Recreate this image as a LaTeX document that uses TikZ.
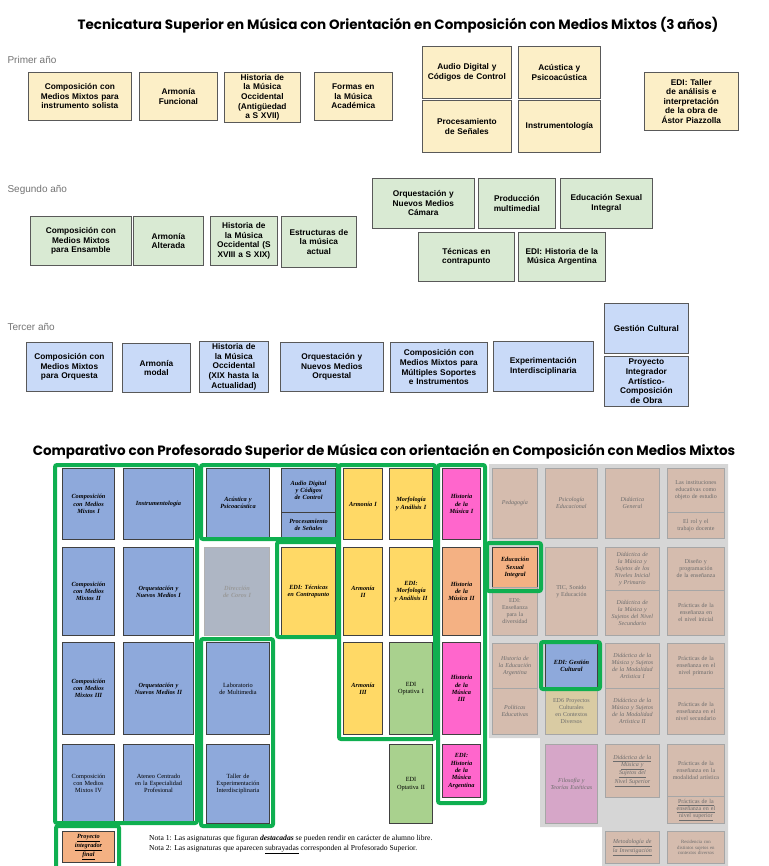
\documentclass[tikz,border=0pt]{standalone}
\usepackage{fontspec}
\setmainfont{Liberation Sans}
\newfontfamily\ttl{Poppins}
\newfontfamily\srf{Liberation Serif}
\definecolor{ylw}{HTML}{FCEFC7}
\definecolor{lgr}{HTML}{D9EAD3}
\definecolor{lbl}{HTML}{C9DAF8}
\definecolor{bblue}{HTML}{8EA9DB}
\definecolor{byel}{HTML}{FFD966}
\definecolor{bpink}{HTML}{FF66CC}
\definecolor{bora}{HTML}{F4B183}
\definecolor{bgrn}{HTML}{A9D18E}
\definecolor{bgray}{HTML}{AEB6C4}
\definecolor{tan}{HTML}{D5BCAE}
\definecolor{ltan}{HTML}{D9CBA3}
\definecolor{lpink}{HTML}{D6A6C8}
\definecolor{bg}{HTML}{D6D6D6}
\definecolor{grn}{HTML}{0FAF50}
\newcommand\bx[7]{\pgfmathsetmacro\bw{#4-#2}\pgfmathsetmacro\bh{#5-#3}\pgfmathsetmacro\tw{#4-#2-10}%
\node[#6,anchor=north west,inner sep=2pt,minimum width=\bw pt,minimum height=\bh pt,text width=\tw pt,align=center] (#1) at (#2,#3) {#7};}
\newcommand\nohy{\lefthyphenmin=99 \righthyphenmin=99 \hyphenpenalty=10000 }
\tikzset{
 top/.style={draw=gray!70!black,line width=0.7pt,font=\nohy\bfseries\fontsize{8.3}{9.6}\selectfont},
 ty/.style={top,fill=ylw}, tg/.style={top,fill=lgr}, tb/.style={top,fill=lbl},
 yr/.style={font=\fontsize{10}{12}\selectfont,text=gray!90!black,anchor=west},
 bot/.style={draw=black!75,line width=1pt,font=\nohy\srf\fontsize{6.3}{7.3}\selectfont},
 bb/.style={bot,font=\nohy\srf\bfseries\itshape\fontsize{6.3}{7.3}\selectfont},
 gr/.style={draw=gray!70,line width=0.8pt,fill=tan,text=gray!85!black,font=\nohy\srf\fontsize{6}{7}\selectfont},
 gri/.style={gr,font=\nohy\srf\itshape\fontsize{6}{7}\selectfont},
 gbox/.style={draw=grn,line width=4pt,rounded corners=2pt},
}
\begin{document}
\nohy
\begin{tikzpicture}[x=1pt,y=-1pt]
\useasboundingbox (0,0) rectangle (768,866);
\node[font=\ttl\bfseries\fontsize{13.5}{15}\selectfont] (t1) at (398,25) {Tecnicatura Superior en Música con Orientación en Composición con Medios Mixtos (3 años)};
\node[yr] (y1) at (4,60) {Primer año};
\node[yr] (y2) at (4,190) {Segundo año};
\node[yr] (y3) at (4,327) {Tercer año};
% first year
\bx{a1}{28}{72}{131}{120}{ty}{Composición con Medios Mixtos para instrumento solista}
\bx{a2}{139}{72}{217}{120}{ty}{Armonía Funcional}
\bx{a3}{224}{72}{300}{120}{ty}{Historia de la Música Occidental (Antigüedad a S XVII)}
\bx{a4}{314}{72}{392}{120}{ty}{Formas en la Música Académica}
\bx{a5}{422}{46}{511}{98}{ty}{Audio Digital y Códigos de Control}
\bx{a6}{518}{46}{600}{98}{ty}{Acústica y\\Psicoacústica}
\bx{a7}{422}{100}{511}{152}{ty}{Procesamiento de Señales}
\bx{a8}{518}{100}{600}{152}{ty}{Instrumentología}
\bx{a9}{644}{72}{738}{130}{ty}{EDI: Taller de análisis e interpretación de la obra de Ástor Piazzolla}
% second year
\bx{b1}{30}{216}{131}{265}{tg}{Composición con Medios Mixtos para Ensamble}
\bx{b2}{133}{216}{203}{265}{tg}{Armonía Alterada}
\bx{b3}{210}{216}{277}{265}{tg}{Historia de la Música Occidental (S XVIII a S XIX)}
\bx{b4}{281}{216}{356}{267}{tg}{Estructuras de la música actual}
\bx{b5}{372}{178}{474}{228}{tg}{Orquestación y\\Nuevos Medios\\Cámara}
\bx{b6}{478}{178}{555}{228}{tg}{Producción multimedial}
\bx{b7}{560}{178}{652}{228}{tg}{Educación Sexual\\Integral}
\bx{b8}{418}{232}{514}{281}{tg}{Técnicas en contrapunto}
\bx{b9}{518}{232}{605}{281}{tg}{EDI: Historia de la Música Argentina}
% third year
\bx{c1}{26}{342}{112}{391}{tb}{Composición con Medios Mixtos para Orquesta}
\bx{c2}{122}{343}{190}{392}{tb}{Armonía modal}
\bx{c3}{199}{341}{268}{392}{tb}{Historia de la Música Occidental (XIX hasta la Actualidad)}
\bx{c4}{280}{342}{383}{391}{tb}{Orquestación y Nuevos Medios Orquestal}
\bx{c5}{390}{342}{487}{392}{tb}{Composición con Medios Mixtos para Múltiples Soportes e Instrumentos}
\bx{c6}{493}{341}{593}{391}{tb}{Experimentación Interdisciplinaria}
\bx{c7}{604}{303}{688}{353}{tb}{Gestión Cultural}
\bx{c8}{604}{356}{688}{406}{tb}{Proyecto Integrador Artístico-\\Composición de Obra}
% comparison
\node[font=\ttl\bfseries\fontsize{13.5}{15}\selectfont] (t2) at (384,452) {Comparativo con Profesorado Superior de Música con orientación en Composición con Medios Mixtos};
\fill[bg] (489,464) -- (728,464) -- (728,866) -- (602,866) -- (602,827) -- (540,827) -- (540,738) -- (489,738) -- cycle;
\bx{d1}{62}{468}{114}{539}{bb,fill=bblue}{Composición con Medios Mixtos I}
\bx{d2}{123}{468}{193}{539}{bb,fill=bblue}{Instrumentología}
\bx{d3}{206}{468}{269}{537}{bb,fill=bblue}{Acústica y Psicoacústica}
\bx{d4}{281}{468}{335}{512}{bb,fill=bblue}{Audio Digital y Códigos de Control}
\bx{d5}{281}{512}{335}{537}{bb,fill=bblue}{Procesamiento de Señales}
\bx{d6}{343}{468}{382}{539}{bb,fill=byel}{Armonía I}
\bx{d7}{389}{468}{432}{539}{bb,fill=byel}{Morfología y Análisis I}
\bx{d8}{442}{468}{480}{539}{bb,fill=bpink}{Historia de la Música I}
\bx{e1}{62}{547}{114}{635}{bb,fill=bblue}{Composición con Medios Mixtos II}
\bx{e2}{123}{547}{193}{635}{bb,fill=bblue}{Orquestación y Nuevos Medios I}
\bx{e3}{204}{547}{269}{635}{bb,fill=bgray,draw=gray!60,text=gray!80}{Dirección de Coros I}
\bx{e4}{281}{547}{335}{635}{bb,fill=byel}{EDI: Técnicas en Contrapunto}
\bx{e5}{343}{547}{382}{635}{bb,fill=byel}{Armonía II}
\bx{e6}{389}{547}{432}{635}{bb,fill=byel}{EDI: Morfología y Análisis II}
\bx{e7}{442}{547}{480}{635}{bb,fill=bora}{Historia de la Música II}
\bx{f1}{62}{642}{114}{734}{bb,fill=bblue}{Composición con Medios Mixtos III}
\bx{f2}{123}{642}{193}{734}{bb,fill=bblue}{Orquestación y Nuevos Medios II}
\bx{f3}{206}{642}{269}{734}{bot,fill=bblue}{Laboratorio de Multimedia}
\bx{f4}{343}{642}{382}{734}{bb,fill=byel}{Armonía III}
\bx{f5}{389}{642}{432}{734}{bot,fill=bgrn}{EDI Optativa I}
\bx{f6}{442}{642}{480}{734}{bb,fill=bpink}{Historia de la Música III}
\bx{g1}{62}{744}{114}{822}{bot,fill=bblue}{Composición con Medios Mixtos IV}
\bx{g2}{123}{744}{193}{822}{bot,fill=bblue}{Ateneo Centrado en la Especialidad Profesional}
\bx{g3}{206}{744}{269}{823}{bot,fill=bblue}{Taller de Experimentación Interdisciplinaria}
\bx{g4}{389}{744}{432}{823}{bot,fill=bgrn}{EDI Optativa II}
\bx{g5}{442}{744}{480}{797}{bb,fill=bpink}{EDI: Historia de la Música Argentina}
\bx{h1}{62}{831}{114}{862}{bb,fill=bora}{\underline{Proyecto}\\\underline{integrador}\\\underline{final}}
\node[anchor=north west,align=left,inner sep=0pt,font=\srf\fontsize{7.6}{10}\selectfont] (nt) at (149,835) {Nota 1: Las asignaturas que figuran \textbf{\textit{destacadas}} se pueden rendir en carácter de alumno libre.\\Nota 2: Las asignaturas que aparecen \underline{subrayadas} corresponden al Profesorado Superior.};
% gray section
\bx{p1}{492}{468}{537}{538}{gri}{Pedagogía}
\bx{p2}{545}{468}{597}{538}{gri}{Psicología Educacional}
\bx{p3}{605}{468}{659}{538}{gri}{Didáctica General}
\bx{p4}{667}{468}{724}{512}{gr}{Las instituciones educativas como objeto de estudio}
\bx{p5}{667}{512}{724}{538}{gr}{El rol y el trabajo docente}
\bx{q1}{492}{547}{537}{587}{bb,fill=bora}{Educación Sexual Integral}
\bx{q2}{492}{587}{537}{635}{gr}{EDI: Enseñanza para la diversidad}
\bx{q3}{545}{547}{597}{635}{gr}{TIC, Sonido y Educación}
\bx{q4}{605}{547}{659}{590}{gri}{Didáctica de la Música y Sujetos de los Niveles Inicial y Primario}
\bx{q5}{605}{590}{659}{635}{gri}{Didáctica de la Música y Sujetos del Nivel Secundario}
\bx{q6}{667}{547}{724}{590}{gr}{Diseño y programación de la enseñanza}
\bx{q7}{667}{590}{724}{635}{gr}{Prácticas de la enseñanza en el nivel inicial}
\bx{r1}{492}{643}{537}{688}{gri}{Historia de la Educación Argentina}
\bx{r2}{492}{688}{537}{734}{gri}{Políticas Educativas}
\bx{r3}{545}{643}{597}{688}{bb,fill=bblue}{EDI: Gestión Cultural}
\bx{r4}{545}{688}{597}{734}{gr,fill=ltan}{ED6 Proyectos Culturales en Contextos Diversos}
\bx{r5}{605}{643}{659}{688}{gri}{Didáctica de la Música y Sujetos de la Modalidad Artística I}
\bx{r6}{605}{688}{659}{734}{gri}{Didáctica de la Música y Sujetos de la Modalidad Artística II}
\bx{r7}{667}{643}{724}{688}{gr}{Prácticas de la enseñanza en el nivel primario}
\bx{r8}{667}{688}{724}{734}{gr}{Prácticas de la enseñanza en el nivel secundario}
\bx{s1}{545}{744}{597}{823}{gri,fill=lpink}{Filosofía y Teorías Estéticas}
\bx{s2}{605}{744}{659}{797}{gri}{\underline{Didáctica de la}\\\underline{Música y}\\\underline{Sujetos del}\\\underline{Nivel Superior}}
\bx{s3}{667}{744}{724}{796}{gr}{Prácticas de la enseñanza en la modalidad artística}
\bx{s4}{667}{796}{724}{823}{gr}{\underline{Prácticas de la}\\\underline{enseñanza en el}\\\underline{nivel superior}}
\bx{u1}{605}{831}{659}{863}{gri}{\underline{Metodología de}\\\underline{la Investigación}}
\bx{u2}{667}{831}{724}{863}{gr,font=\nohy\srf\fontsize{4.8}{5.6}\selectfont}{Residencia con distintos sujetos en contextos diversos}
% green outlines
\draw[gbox] (55,465) rectangle (197,823);
\draw[gbox] (201,465) rectangle (338,539);
\draw[gbox] (277,542) rectangle (338,637);
\draw[gbox] (201,639) rectangle (273,826);
\draw[gbox] (339,465) rectangle (435,739);
\draw[gbox] (438,465) rectangle (485,803);
\draw[gbox] (56,826) rectangle (119,870);
\draw[gbox] (487,543) rectangle (541,591);
\draw[gbox] (541,642) rectangle (600,689);
\end{tikzpicture}
\end{document}
